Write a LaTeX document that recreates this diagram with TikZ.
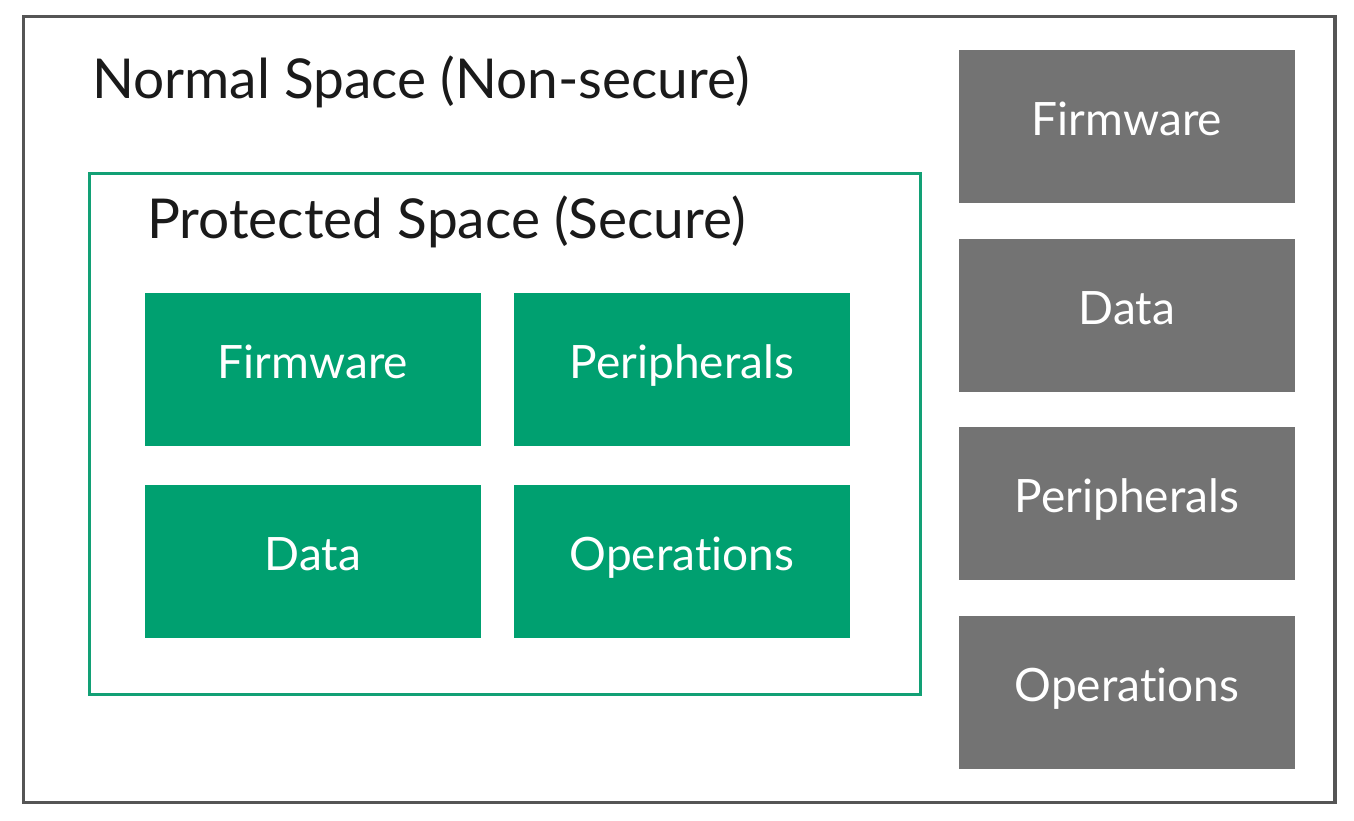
\documentclass[tikz,border=0pt]{standalone}
\usepackage{fontspec}
\setmainfont{Lato}[Ligatures={NoCommon,NoRare,NoDiscretionary}]
\definecolor{outerline}{HTML}{555555}
\definecolor{graybox}{HTML}{737373}
\definecolor{greenbox}{HTML}{00A070}
\definecolor{greenline}{HTML}{12A075}
\definecolor{titletext}{HTML}{1A1A1A}
\begin{document}
\begin{tikzpicture}[x=1pt,y=-1pt,
  boxlabel/.style={anchor=base,inner sep=0pt,text=white,font=\fontsize{46}{54}\selectfont},
  ttl/.style={anchor=base west,inner sep=0pt,text=titletext,font=\fontsize{55}{64}\selectfont}]
\useasboundingbox (0,0) rectangle (1354,820);
\fill[white] (0,0) rectangle (1354,820);
\draw[outerline,line width=3.5pt] (23.5,16.5) rectangle (1335,802.5);
\draw[greenline,line width=2.5pt] (89.5,173.5) rectangle (920.5,694.5);
\node[ttl] (normal) at (92,98) {Normal Space (Non-secure)};
\node[ttl] (prot) at (147,238) {Protected Space (Secure)};
% green boxes
\fill[greenbox] (145,293) rectangle (481,446);
\fill[greenbox] (514,293) rectangle (850,446);
\fill[greenbox] (145,485) rectangle (481,638);
\fill[greenbox] (514,485) rectangle (850,638);
\node[boxlabel] (gf) at (313,378) {Firmware};
\node[boxlabel] (gp) at (682,378) {Peripherals};
\node[boxlabel] (gd) at (313,570) {Data};
\node[boxlabel] (go) at (682,570) {Operations};
% gray boxes
\fill[graybox] (959,50) rectangle (1295,203);
\fill[graybox] (959,239) rectangle (1295,392);
\fill[graybox] (959,427) rectangle (1295,580);
\fill[graybox] (959,616) rectangle (1295,769);
\node[boxlabel] (rf) at (1127,135) {Firmware};
\node[boxlabel] (rd) at (1127,324) {Data};
\node[boxlabel] (rp) at (1127,512) {Peripherals};
\node[boxlabel] (ro) at (1127,701) {Operations};
\end{tikzpicture}
\end{document}
